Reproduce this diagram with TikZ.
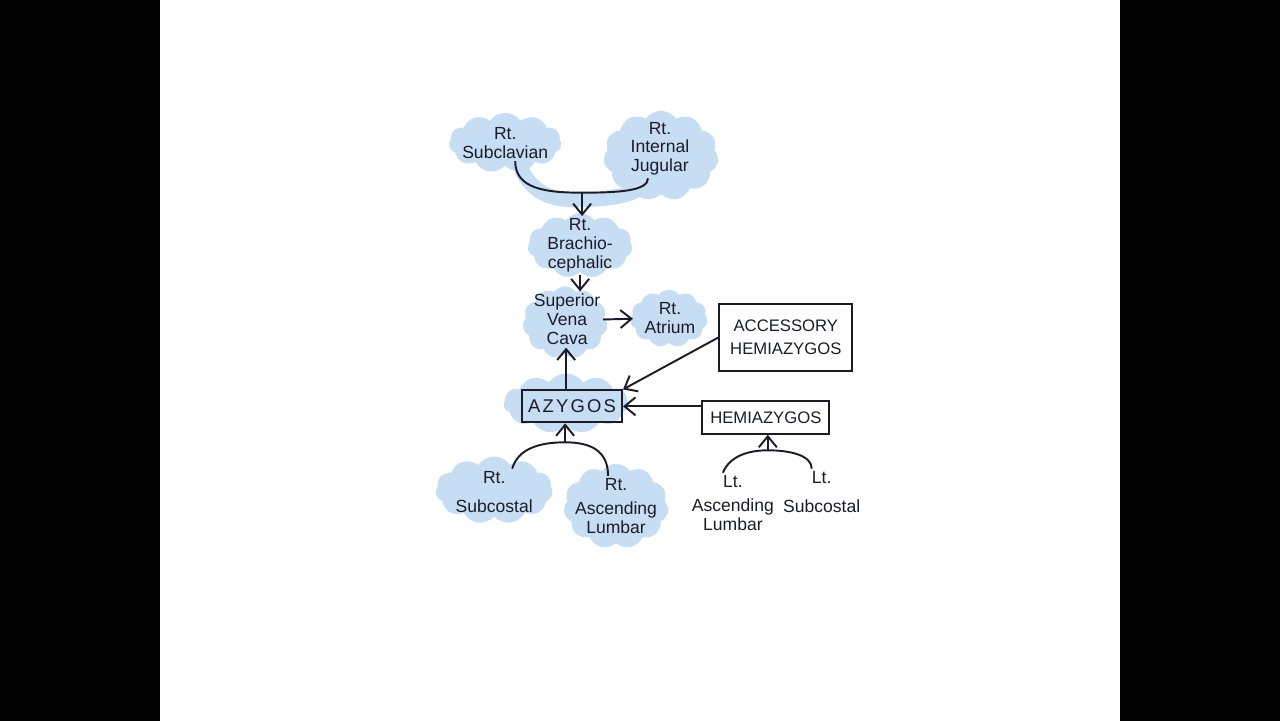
\documentclass[tikz,border=0pt]{standalone}
\usepackage{fontspec}
\setmainfont{Liberation Sans}
\usetikzlibrary{shapes.symbols,arrows.meta}
\definecolor{veinblue}{RGB}{198,221,244}
\definecolor{ink}{RGB}{28,28,40}

\begin{document}
\begin{tikzpicture}[x=0.2mm,y=-0.2mm,
  puff/.style={shape=cloud, cloud puffs=11, cloud puff arc=110, cloud ignores aspect, fill=veinblue, draw=none, inner sep=0pt},
  vein/.style={align=center, text=ink, inner sep=1pt, font=\fontsize{10}{10.8}\selectfont},
  caps/.style={draw=ink, line width=1.1pt, align=center, text=ink, inner sep=2pt, font=\fontsize{9.5}{13}\selectfont},
  every path/.style={draw=ink, line width=1.1pt},
  >={Straight Barb[length=2.2mm,width=3.6mm]}]

\fill[black] (0,0) rectangle (1280,720);
\fill[white] (160,0) rectangle (1120,720);

\node[puff, minimum width=22.5mm, minimum height=12mm] at (505,142) {};
\node[puff, minimum width=23mm, minimum height=18mm] at (661,155) {};
\draw[veinblue, line width=3mm, line cap=round] (522,170) .. controls (535,197) and (560,200) .. (582,199) .. controls (615,198) and (640,194) .. (645,180);
\node[puff, minimum width=21mm, minimum height=13mm] at (580,245) {};
\node[puff, minimum width=17mm, minimum height=14.5mm] at (565,322) {};
\node[puff, minimum width=15.5mm, minimum height=11.5mm] at (669,318) {};
\node[puff, minimum width=25mm, minimum height=12mm] at (566,403) {};
\node[puff, minimum width=23.5mm, minimum height=13.5mm] at (494,490) {};
\node[puff, minimum width=21mm, minimum height=17mm] at (616,506) {};

\node[vein] (sub) at (505,142) {Rt.\\Subclavian};
\node[vein] (jug) at (660,148) {Rt.\\Internal\\Jugular};
\node[vein] (bra) at (580,245) {Rt.\\Brachio-\\cephalic};
\node[vein] (svc) at (567,319) {Superior\\Vena\\Cava};
\node[vein] (atr) at (670,318) {Rt.\\Atrium};
\node[caps, minimum width=26.6mm, minimum height=13.4mm] (acc) at (786,337) {ACCESSORY\\HEMIAZYGOS};
\node[caps, minimum width=20mm, minimum height=6.4mm, font=\fontsize{10.5}{13}\selectfont\addfontfeature{LetterSpace=12}] (azy) at (572,406) {AZYGOS};
\node[caps, minimum width=25.4mm, minimum height=6.6mm] (hemi) at (766,417) {HEMIAZYGOS};
\node[vein] (rsc) at (494,492) {Rt.\\[6pt]Subcostal};
\node[vein] (ral) at (616,506) {Rt.\\[3pt]Ascending\\Lumbar};
\node[vein] (lal) at (733,503) {Lt.\\[3pt]Ascending\\Lumbar};
\node[vein] (lsc) at (822,492) {Lt.\\[6pt]Subcostal};

\coordinate (j1) at (582,192);
\coordinate (j2) at (565,442);
\coordinate (j3) at (768,450);

\draw ([xshift=2mm]sub.south) .. controls (515,188) and (545,192) .. (j1) .. controls (620,192) and (648,190) .. ([xshift=-2.4mm]jug.south);
\draw[->] (j1) -- (j1 |- bra.north);
\draw[->] (bra.south) -- (bra.south |- svc.north);
\draw[->, shorten >=1.8mm] (svc.east) -- (atr.west);
\draw[->] ([xshift=-1.2mm]azy.north) -- ([xshift=-1.2mm]azy.north |- svc.south);
\draw[->] (acc.west) -- (azy.north east);
\draw[->] (hemi.west |- azy.east) -- (azy.east);
\draw ([xshift=3.6mm]rsc.north) .. controls (518,448) and (540,442) .. (j2) .. controls (590,442) and (608,450) .. ([xshift=-1.6mm]ral.north);
\draw[->] (j2) -- (j2 |- azy.south);
\draw ([xshift=-2mm]lal.north) .. controls (730,455) and (750,450) .. (j3) .. controls (790,450) and (812,455) .. ([xshift=-2mm]lsc.north);
\draw[->] (j3) -- (j3 |- hemi.south);
\end{tikzpicture}
\end{document}
